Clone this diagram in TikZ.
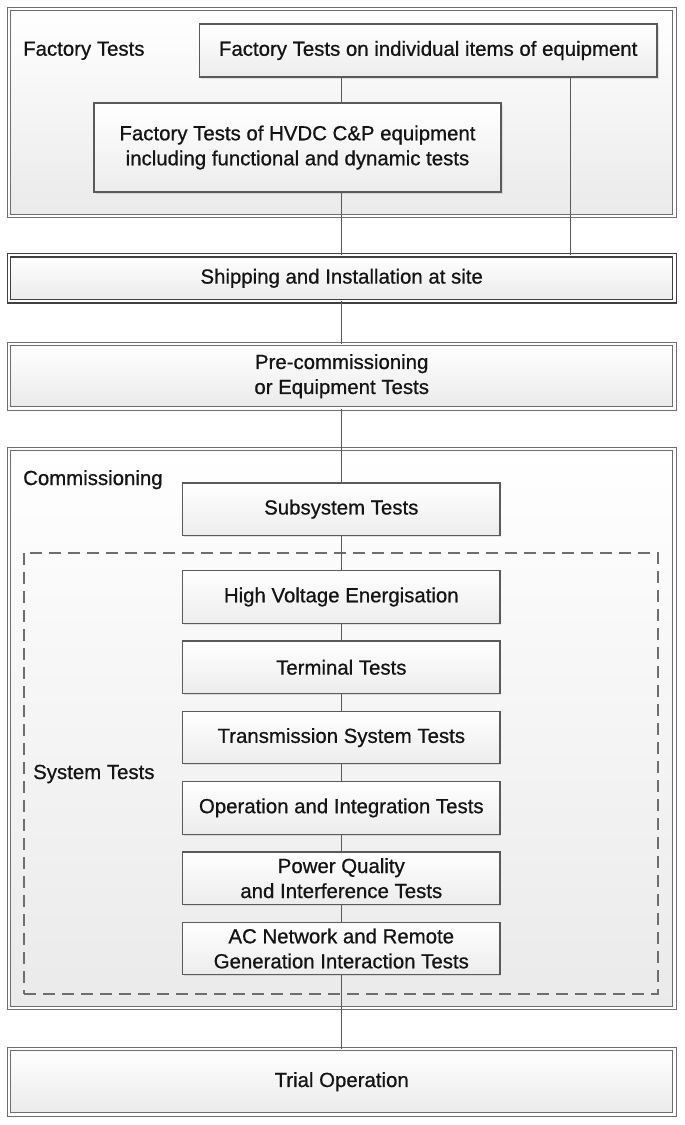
\documentclass[tikz,border=0pt]{standalone}
\usepackage{fontspec}
\setmainfont{Liberation Sans}[FakeStretch=1.0, FakeBold=0.7]
\usetikzlibrary{shadows,calc}
\definecolor{edge}{HTML}{5A5A5A}
\definecolor{dedge}{HTML}{6E6E6E}
\definecolor{txt}{HTML}{141414}
\definecolor{boxbot}{HTML}{ECECEC}
\definecolor{outbot}{HTML}{EAEAEA}
\tikzset{
  lbl/.style={font=\fontsize{20.4}{25}\selectfont, text=txt, inner sep=0pt, anchor=base west},
  inbox/.style={draw=edge, line width=1.2pt, top color=white, bottom color=boxbot,
    minimum width=317.3pt, minimum height=52.5pt, inner sep=0pt, outer sep=0pt,
    align=center, font=\fontsize{20.4}{25}\selectfont, text=txt,
    drop shadow={shadow xshift=1.5pt, shadow yshift=-1.5pt, opacity=0.2}},
  outbox/.style={draw=dedge, line width=1.1pt, double=white, double distance=2.2pt,
    top color=white, bottom color=outbot,
    minimum width=665.6pt, inner sep=0pt, outer sep=0pt,
    align=center, font=\fontsize{20.4}{25}\selectfont, text=txt,
    drop shadow={shadow xshift=1.5pt, shadow yshift=-1.5pt, opacity=0.18}},
  conn/.style={draw=edge, line width=1.2pt},
  dashbox/.style={draw=dedge, line width=2pt, dash pattern=on 12pt off 7pt,
    minimum width=634.3pt, minimum height=440.8pt, inner sep=0pt, outer sep=0pt}
}
\begin{document}
\begin{tikzpicture}[x=1pt, y=-1pt]
\useasboundingbox (0,0) rectangle (685,1125);
\fill[white] (0,0) rectangle (685,1125);

% outer containers
\node[outbox, minimum height=206.9pt] (factory) at (341.7,112.65) {};
\node[outbox, minimum height=46pt, draw=black!75] (ship) at (341.7,278.3) {Shipping and Installation at site};
\node[outbox, minimum height=64.6pt] (pre) at (341.7,376.2) {Pre-commissioning\\or Equipment Tests};
\node[outbox, minimum height=558.9pt] (comm) at (341.7,728.4) {};
\node[outbox, minimum height=65.6pt] (trial) at (341.7,1081.7) {Trial Operation};

\node[dashbox] (systests) at (341.15,773.1) {};

% labels
\node[lbl] (lfactory) at (23,55.7) {Factory Tests};
\node[lbl] (lcomm) at (23,485) {Commissioning};
\node[lbl] (lsys) at (33,779) {System Tests};

% inner boxes
\node[inbox, minimum width=457.7pt, minimum height=53pt] (indiv) at (428.2,50.5) {Factory Tests on individual items of equipment};
\node[inbox, minimum width=407pt, minimum height=89pt] (hvdc) at (297.5,147.5) {Factory Tests of HVDC C\&P equipment\\including functional and dynamic tests};
\node[inbox] (sub) at (341.3,509.2) {Subsystem Tests};
\node[inbox] (hv) at (341.3,597) {High Voltage Energisation};
\node[inbox] (term) at (341.3,667.3) {Terminal Tests};
\node[inbox] (trans) at (341.3,737.6) {Transmission System Tests};
\node[inbox] (oper) at (341.3,807.9) {Operation and Integration Tests};
\node[inbox] (pq) at (341.3,878.2) {Power Quality\\and Interference Tests};
\node[inbox] (acn) at (341.3,948.5) {AC Network and Remote\\Generation Interaction Tests};

\coordinate (rx) at (570.7,0);

% connectors
\draw[conn] (indiv.south -| sub.north) -- (hvdc.north -| sub.north);
\draw[conn] (indiv.south -| rx) -- (ship.north -| rx);
\draw[conn] (hvdc.south -| sub.north) -- (ship.north -| sub.north);
\draw[conn] (ship.south -| sub.north) -- (pre.north -| sub.north);
\draw[conn] (pre.south -| sub.north) -- (sub.north);
\draw[conn] (sub.south) -- (hv.north);
\draw[conn] (hv.south) -- (term.north);
\draw[conn] (term.south) -- (trans.north);
\draw[conn] (trans.south) -- (oper.north);
\draw[conn] (oper.south) -- (pq.north);
\draw[conn] (pq.south) -- (acn.north);
\draw[conn] (acn.south) -- (trial.north -| acn.south);
\end{tikzpicture}
\end{document}
